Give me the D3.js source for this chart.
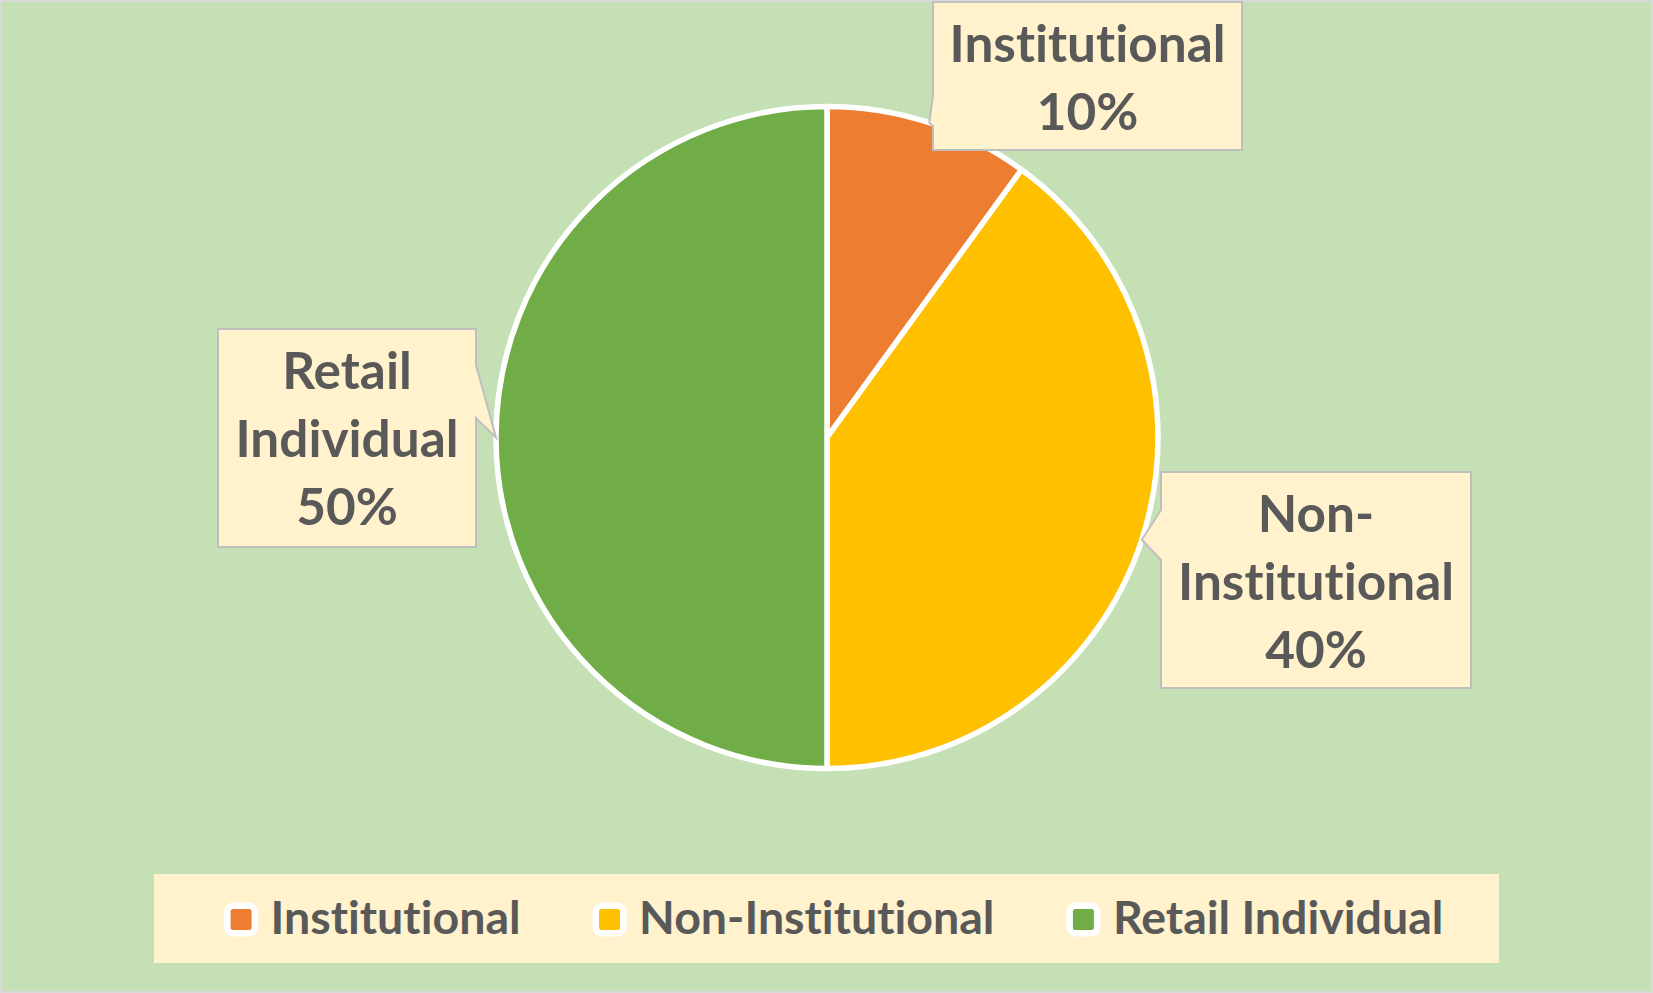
<!DOCTYPE html>
<html><head><meta charset="utf-8">
<script src="https://cdn.jsdelivr.net/npm/d3@7"></script>
<style>body{margin:0;background:#fff;overflow:hidden} text{font-variant-ligatures:none;font-feature-settings:"liga" 0,"clig" 0}</style>
</head><body>
<script>
// ---- data ----
const categories = ["Institutional", "Non-Institutional", "Retail Individual"];
const values = [10, 40, 50];
const colors = ["#ED7D31", "#FFC000", "#70AD47"];
const labelWraps = [["Institutional"], ["Non-", "Institutional"], ["Retail", "Individual"]];

// ---- layout ----
const W = 1653, H = 993;
const cx = 827, cy = 437.5, R = 331;
const FONT = "Lato, 'Noto Sans', sans-serif";
const TXT = "#595959";
const BOXFILL = "#FFF2CC";
const callouts = [
  {x: 933, y: 2, w: 309, h: 148, side: "left", b0: 95, b1: 126},
  {x: 1161, y: 472, w: 310, h: 216, side: "left", b0: 510, b1: 560},
  {x: 218, y: 329, w: 258, h: 218, side: "right", b0: 365, b1: 418}
];

const svg = d3.select("body").append("svg").attr("width", W).attr("height", H);

svg.append("rect").attr("x", 1).attr("y", 1).attr("width", W - 2).attr("height", H - 2)
  .attr("fill", "#C5E0B4").attr("stroke", "#D9D9D9").attr("stroke-width", 2);

function measure(txt, size) {
  const t = svg.append("text").attr("font-family", FONT).attr("font-weight", "bold")
    .attr("font-size", size).text(txt);
  const w = t.node().getComputedTextLength();
  t.remove();
  return w;
}
const base = measure("Institutional", 100);
const labelSize = 100 * 276 / base;
const legendSize = 100 * 250 / base;

// ---- pie ----
const pie = d3.pie().sort(null).value(d => d).startAngle(0).endAngle(2 * Math.PI);
const arcs = pie(values);
const arc = d3.arc().innerRadius(0).outerRadius(R);
const g = svg.append("g").attr("transform", `translate(${cx},${cy})`);
g.selectAll("path").data(arcs).join("path")
  .attr("d", arc)
  .attr("fill", (d, i) => colors[i])
  .attr("stroke", "#fff").attr("stroke-width", 5.5).attr("stroke-linejoin", "round");

// ---- callouts ----
const total = d3.sum(values);
arcs.forEach((a, i) => {
  const c = callouts[i];
  const mid = (a.startAngle + a.endAngle) / 2;
  const tx = cx + R * Math.sin(mid), ty = cy - R * Math.cos(mid);
  const x0 = c.x, x1 = c.x + c.w, y0 = c.y, y1 = c.y + c.h;
  let p;
  if (c.side === "left") {
    p = `M${x0},${y0}L${x1},${y0}L${x1},${y1}L${x0},${y1}L${x0},${c.b1}L${tx},${ty}L${x0},${c.b0}Z`;
  } else {
    p = `M${x0},${y0}L${x1},${y0}L${x1},${c.b0}L${tx},${ty}L${x1},${c.b1}L${x1},${y1}L${x0},${y1}Z`;
  }
  svg.append("path").attr("d", p).attr("fill", BOXFILL)
    .attr("stroke", "#BFBFBF").attr("stroke-width", 2).attr("stroke-linejoin", "miter");
  const lines = labelWraps[i].concat([Math.round(values[i] / total * 100) + "%"]);
  const t = svg.append("text").attr("font-family", FONT).attr("font-weight", "bold")
    .attr("font-size", labelSize).attr("fill", TXT).attr("text-anchor", "middle");
  lines.forEach((l, k) => {
    t.append("tspan").attr("x", c.x + c.w / 2).attr("y", c.y + 59.5 + k * 68).text(l);
  });
});

// ---- legend ----
const lg = {x: 154, y: 874, w: 1345, h: 89, baseline: 934, markCy: 919.5};
svg.append("rect").attr("x", lg.x).attr("y", lg.y).attr("width", lg.w).attr("height", lg.h)
  .attr("fill", BOXFILL);
const widths = categories.map(c => measure(c, legendSize));
const markToText = 47, gapAfter = 71.5;
const totalW = d3.sum(widths) + categories.length * markToText + (categories.length - 1) * gapAfter;
let xPos = 833.5 - totalW / 2;
categories.forEach((c, i) => {
  svg.append("rect").attr("x", xPos + 7).attr("y", lg.markCy - 10.5).attr("width", 21).attr("height", 21)
    .attr("fill", colors[i]).attr("stroke", "#fff").attr("stroke-width", 13).attr("rx", 2.5)
    .attr("paint-order", "stroke");
  svg.append("text").attr("x", xPos + markToText).attr("y", lg.baseline)
    .attr("font-family", FONT).attr("font-weight", "bold").attr("font-size", legendSize)
    .attr("fill", TXT).text(c);
  xPos += markToText + widths[i] + gapAfter;
});
</script>
</body></html>
